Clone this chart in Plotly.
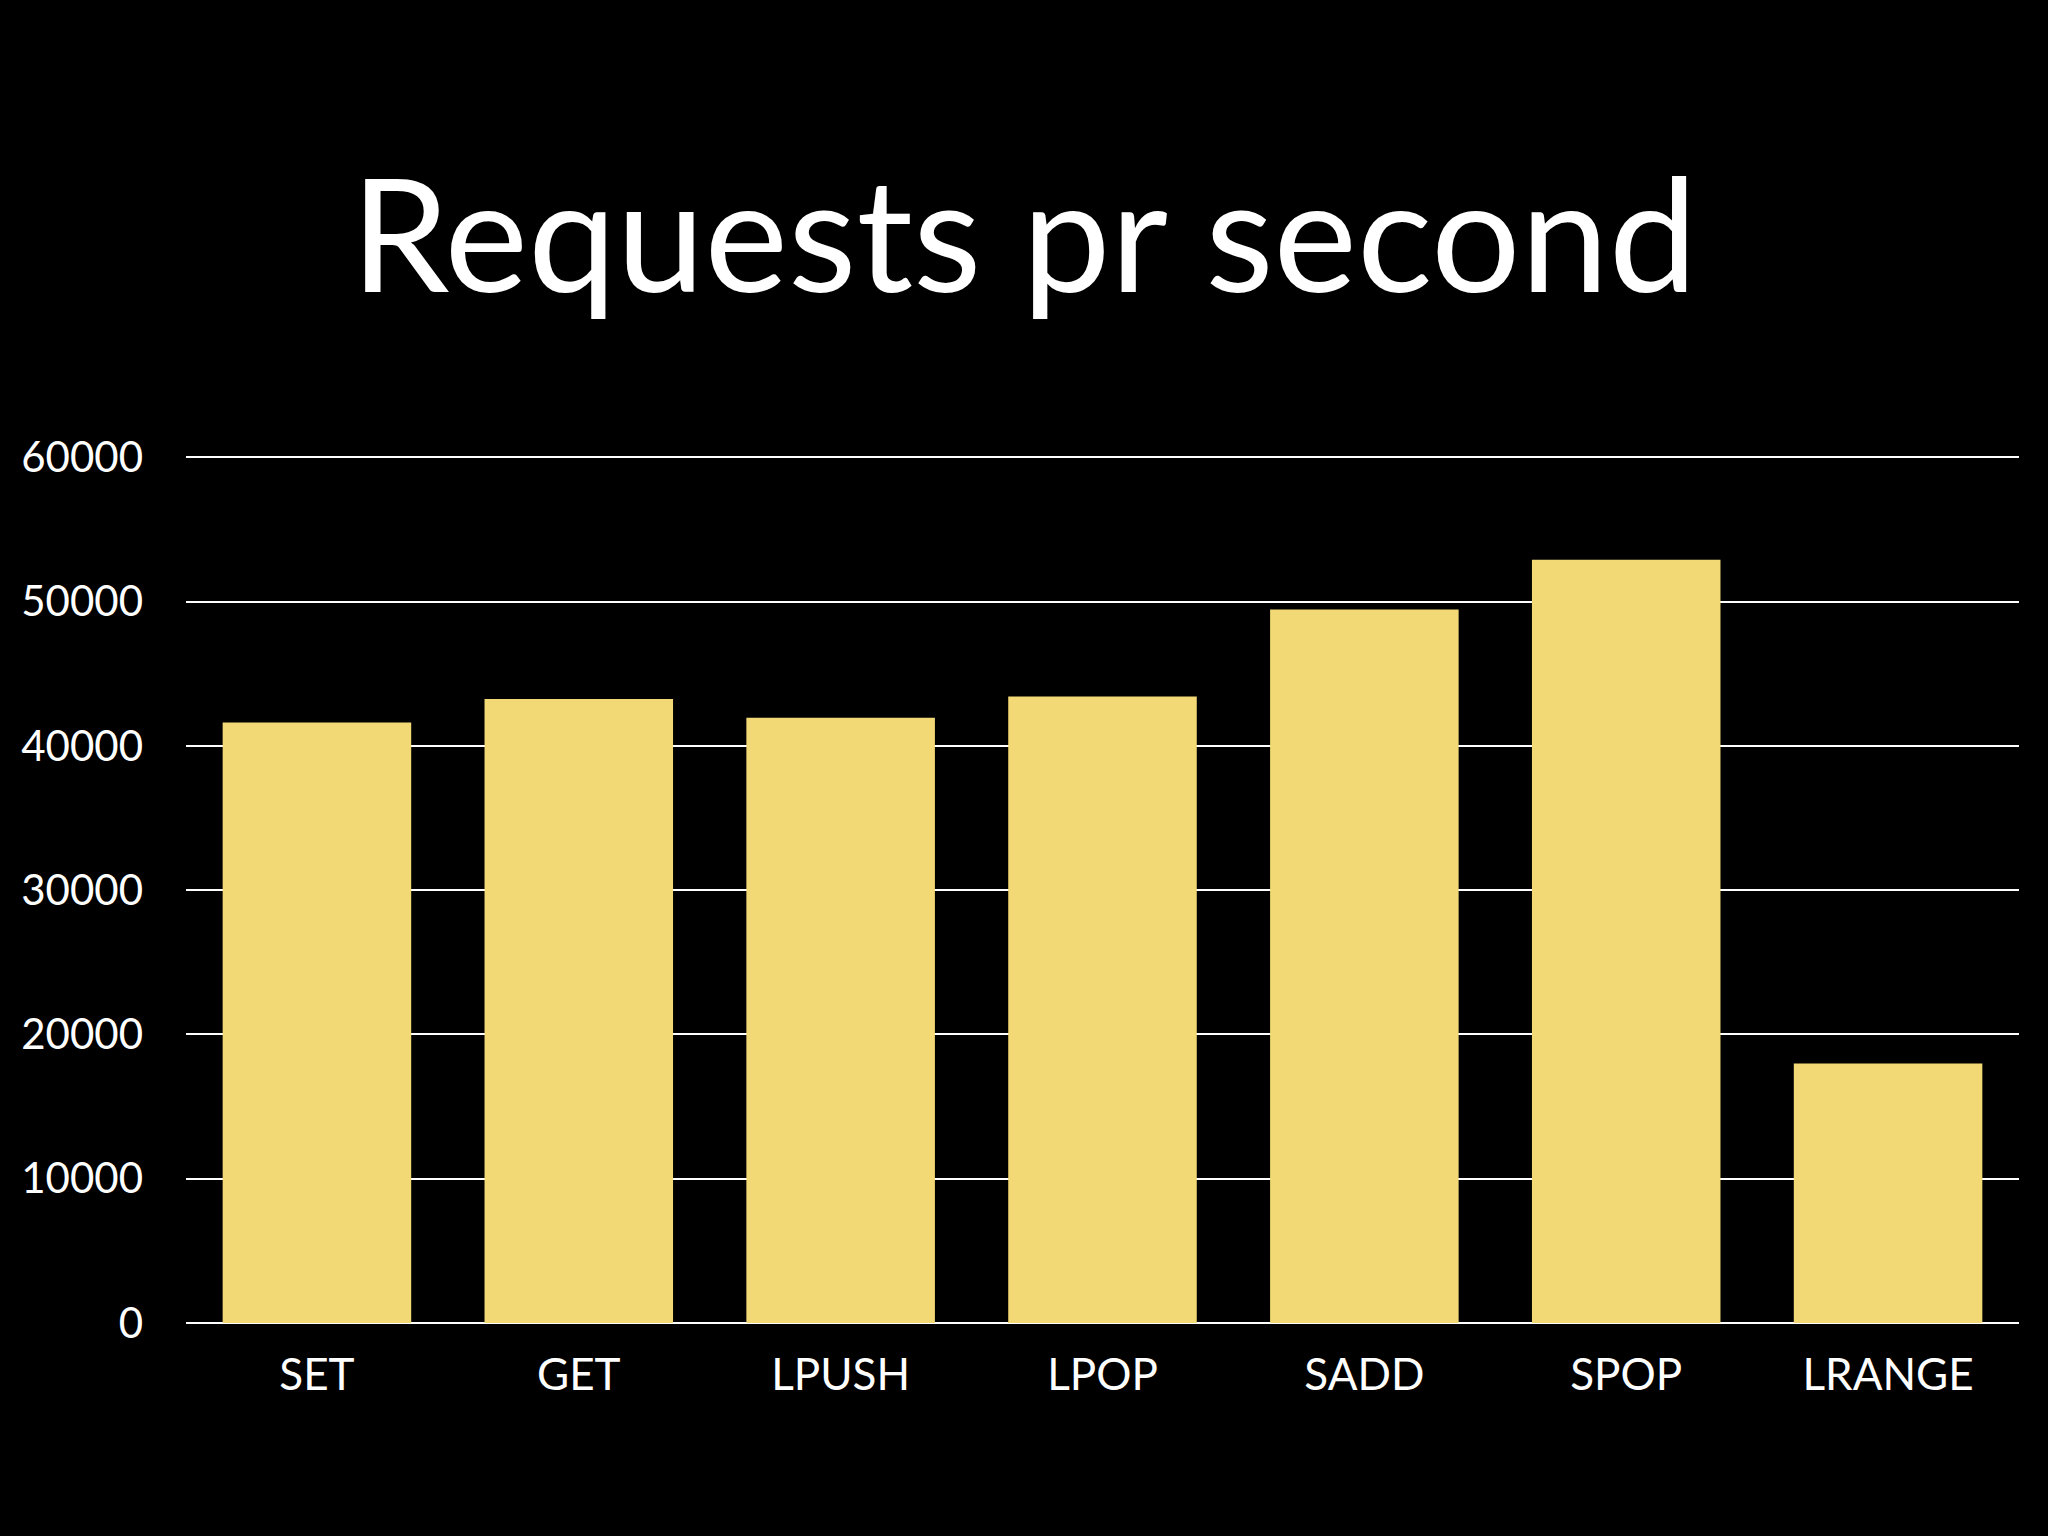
import plotly.graph_objects as go

categories = ["SET", "GET", "LPUSH", "LPOP", "SADD", "SPOP", "LRANGE"]
requests_per_second = [41630, 43250, 41960, 43430, 49450, 52900, 17980]
y_ticks = [0, 10000, 20000, 30000, 40000, 50000, 60000]
title_text = "Requests pr second"

fig = go.Figure(
    go.Bar(
        x=categories,
        y=requests_per_second,
        marker=dict(color="#F3D975", line=dict(width=0)),
        width=0.72,
    )
)

fig.update_layout(
    width=2048,
    height=1536,
    paper_bgcolor="black",
    plot_bgcolor="black",
    margin=dict(l=186, r=29, t=443, b=213, pad=0),
    showlegend=False,
    font=dict(family="Lato", color="white"),
    title=dict(
        text=title_text,
        x=0.5,
        xanchor="center",
        y=1 - 292 / 1536,
        yanchor="bottom",
        font=dict(family="Lato", size=158, color="white"),
    ),
    bargap=0.28,
)

fig.update_yaxes(
    range=[0, 61000],
    tickvals=y_ticks,
    ticktext=[str(v) for v in y_ticks],
    showgrid=True,
    gridcolor="white",
    gridwidth=2,
    zeroline=True,
    zerolinecolor="white",
    zerolinewidth=2,
    showline=False,
    ticks="",
    ticklabelstandoff=42,
    tickfont=dict(family="Lato", size=42, color="white"),
    layer="below traces",
)
fig.update_xaxes(
    showgrid=False,
    showline=False,
    ticks="",
    ticklabelstandoff=22,
    tickfont=dict(family="Lato", size=44, color="white"),
)

fig.write_html(
    "out.html",
    config={"displayModeBar": False},
    post_script=(
        "document.body.style.margin='0';"
        "document.body.style.background='black';"
        "document.body.style.overflow='hidden';"
    ),
)
